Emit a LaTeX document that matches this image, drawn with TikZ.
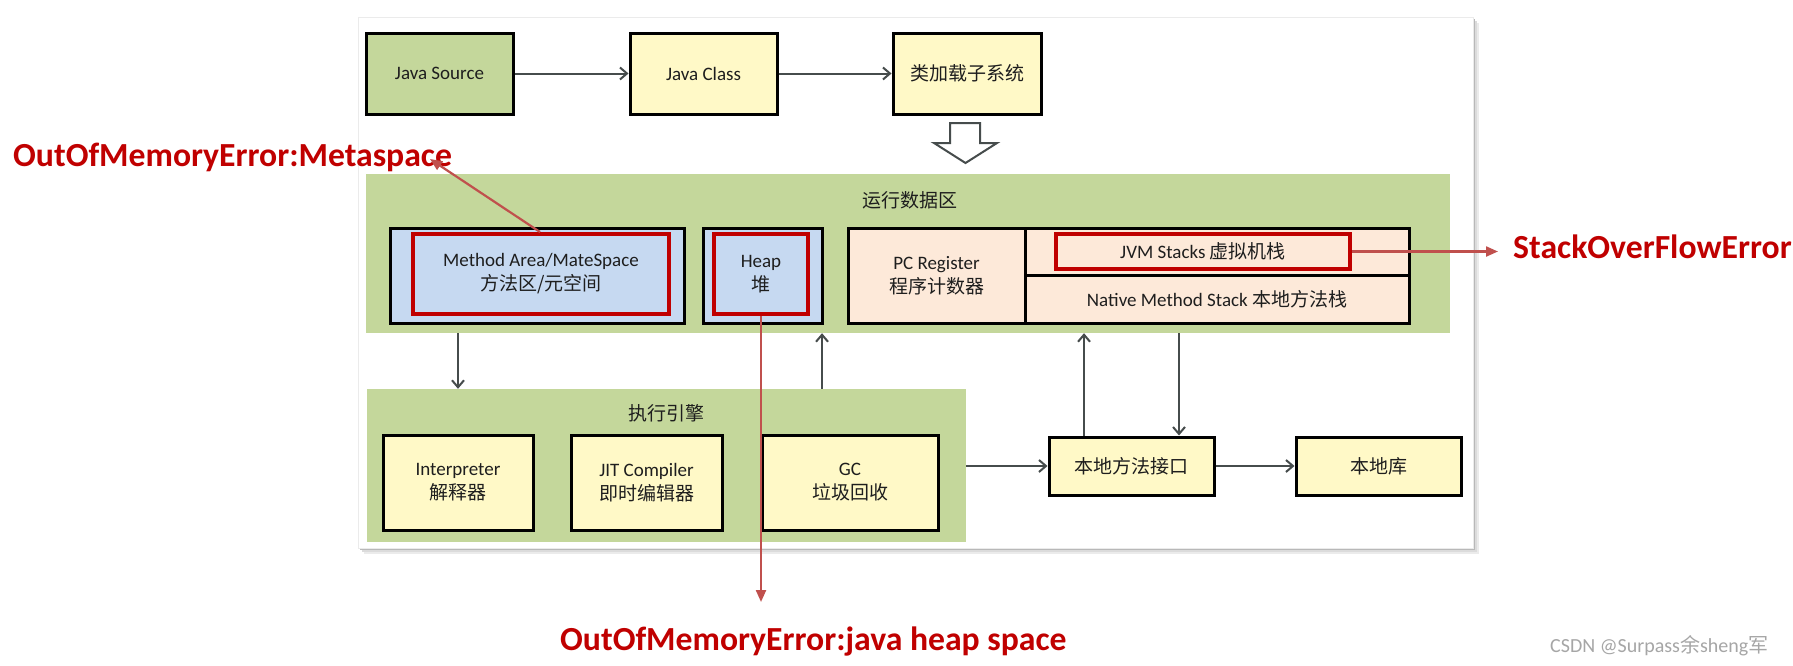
\documentclass[tikz,border=0pt]{standalone}
\usepackage{fontspec}
\setmainfont{Carlito}
\newfontfamily\cjk{Noto Sans CJK SC}
\usetikzlibrary{arrows.meta}
\definecolor{grn}{HTML}{C4D79B}
\definecolor{ylw}{HTML}{FFF9C7}
\definecolor{blu}{HTML}{C6D9F1}
\definecolor{pch}{HTML}{FDE9D9}
\definecolor{darkred}{HTML}{C00000}
\definecolor{redln}{HTML}{C0504D}
\definecolor{arr}{HTML}{464C4C}
\definecolor{txt}{HTML}{1E1E1E}
\begin{document}
\begin{tikzpicture}[x=1pt,y=-1pt,
  bx/.style={draw=black, line width=3pt, inner sep=0pt, text=txt, align=center,
    font=\fontsize{19}{24}\selectfont},
  area/.style={fill=grn, draw=none, inner sep=0pt},
  redbox/.style={draw=darkred, line width=4pt, inner sep=0pt, text=txt, align=center,
    font=\fontsize{19}{24}\selectfont},
  garr/.style={draw=arr, line width=2pt, -{Straight Barb[length=7pt,width=12pt,line width=2pt]}},
  rarr/.style={draw=redln, line width=2.2pt, -{Triangle[length=12pt,width=10pt]}},
  errtxt/.style={text=darkred, font=\fontsize{33.7}{36}\selectfont\bfseries, inner sep=0pt, anchor=base west},
  lbl/.style={text=txt, font=\fontsize{19}{24}\selectfont\cjk, inner sep=0pt}
]
\useasboundingbox (0,0) rectangle (1793,665);
\fill[white] (0,0) rectangle (1793,665);
% panel with shadow
\fill[black!8] (364,23) rectangle (1479,554);
\fill[black!14] (362,21) rectangle (1477,552);
\fill[black!28] (360,19) rectangle (1475,550);
\fill[white, draw=black!8, line width=0.8pt] (358,17) rectangle (1473,548);

% top row
\node[bx, fill=grn, minimum width=147pt, minimum height=81pt] (jsrc) at (439.5,73.5) {Java Source};
\node[bx, fill=ylw, minimum width=147pt, minimum height=81pt] (jcls) at (703.5,73.5) {Java Class};
\node[bx, fill=ylw, minimum width=148pt, minimum height=81pt, font=\fontsize{19}{24}\selectfont\cjk] (cls) at (967,73.5) {类加载子系统};
\draw[garr] (jsrc.east) -- (jcls.west);
\draw[garr] (jcls.east) -- (cls.west);

% hollow arrow
\draw[draw=arr, line width=2pt, fill=white, line join=miter]
  (950,123) -- (980,123) -- (980,143) -- (997,143) -- (965.5,163) -- (934,143) -- (950,143) -- cycle;

% runtime data area
\node[area, minimum width=1084pt, minimum height=159pt] (rda) at (908,253.5) {};
\node[lbl] (rdalbl) at (910,200) {运行数据区};

\node[bx, fill=blu, minimum width=294pt, minimum height=95pt] (ma) at (537,275.5) {};
\node[redbox, minimum width=256pt, minimum height=80pt] (mai) at (541,274) {Method Area/MateSpace\\{\cjk 方法区/元空间}};
\node[bx, fill=blu, minimum width=119pt, minimum height=95pt] (heap) at (762.5,275.5) {};
\node[redbox, minimum width=94pt, minimum height=80pt] (heapi) at (761,274) {Heap\\{\cjk 堆}};
\node[bx, fill=pch, minimum width=177pt, minimum height=95pt] (pc) at (936.5,275.5) {PC Register\\{\cjk 程序计数器}};
\node[bx, fill=pch, minimum width=384pt, minimum height=47pt] (jvm) at (1217,251.5) {};
\node[bx, fill=pch, minimum width=384pt, minimum height=48pt] (nms) at (1217,299) {Native Method Stack {\cjk 本地方法栈}};
\node[redbox, minimum width=294pt, minimum height=35pt] (jvmr) at (1203,251.5) {JVM Stacks {\cjk 虚拟机栈}};

% execution engine
\node[area, minimum width=599pt, minimum height=153pt] (exec) at (666.5,465.5) {};
\node[lbl] (execlbl) at (666,413) {执行引擎};
\node[bx, fill=ylw, minimum width=150pt, minimum height=95pt] (interp) at (458,482.5) {Interpreter\\{\cjk 解释器}};
\node[bx, fill=ylw, minimum width=151pt, minimum height=95pt] (jit) at (646.5,482.5) {JIT Compiler\\{\cjk 即时编辑器}};
\node[bx, fill=ylw, minimum width=176pt, minimum height=95pt] (gc) at (850,482.5) {GC\\{\cjk 垃圾回收}};

% native
\node[bx, fill=ylw, minimum width=165pt, minimum height=58pt, font=\fontsize{19}{24}\selectfont\cjk] (nmi) at (1131.5,466) {本地方法接口};
\node[bx, fill=ylw, minimum width=165pt, minimum height=58pt, font=\fontsize{19}{24}\selectfont\cjk] (nlib) at (1378.5,466) {本地库};

\coordinate (xup) at (822,0);
\coordinate (xnu) at (1084,0);
\coordinate (xnd) at (1179,0);
\draw[garr] (interp |- rda.south) -- (interp |- exec.north);
\draw[garr] (xup |- exec.north) -- (xup |- rda.south);
\draw[garr] (xnu |- nmi.north) -- (xnu |- rda.south);
\draw[garr] (xnd |- rda.south) -- (xnd |- nmi.north);
\draw[garr] (exec.east |- nmi) -- (nmi.west);
\draw[garr] (nmi.east) -- (nlib.west);

% errors
\node[errtxt] (e1) at (13,166) {OutOfMemoryError:Metaspace};
\node[errtxt] (e2) at (560,650) {OutOfMemoryError:java heap space};
\node[errtxt] (e3) at (1513,258) {StackOverFlowError};
\coordinate (e1tip) at (430,159);
\coordinate (e2tip) at (761,602);
\coordinate (e3tip) at (1498,251.5);
\draw[rarr] (540,232) -- (e1tip);
\draw[rarr] (heapi.south) -- (e2tip);
\draw[rarr] (jvmr.east) -- (e3tip);

% watermark
\node[inner sep=0pt, anchor=base west, text=black!35, font=\fontsize{20}{22}\selectfont] (wm) at (1550,652) {CSDN @Surpass{\cjk 余}sheng{\cjk 军}};
\end{tikzpicture}
\end{document}
